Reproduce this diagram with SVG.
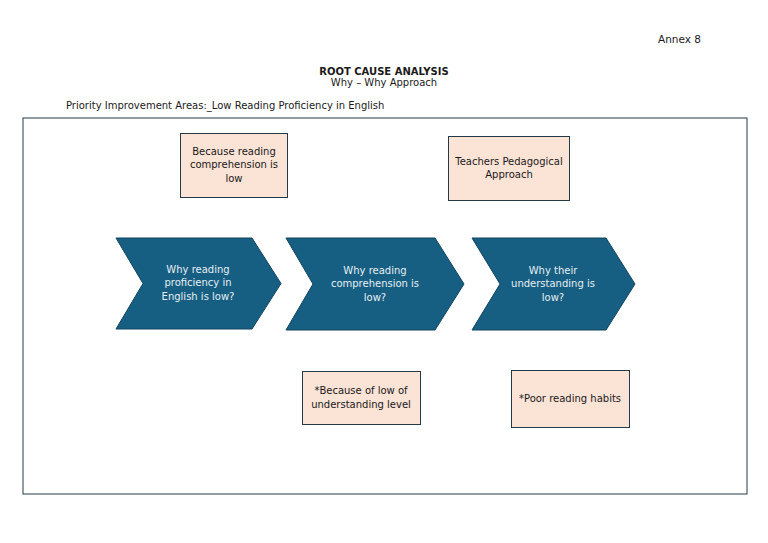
<svg xmlns="http://www.w3.org/2000/svg" width="768" height="543" viewBox="0 0 768 543">
<style>
text{font-family:"DejaVu Sans","Noto Sans",sans-serif;fill:#1a1a1a}
.hdr{font-size:10.5px}
.ttl{font-size:10px;font-weight:bold}
.sub{font-size:10px}
.chev{fill:#175f82;stroke:#12445f;stroke-width:1}
.ct{font-size:10px;fill:#e6eef3;text-anchor:middle}
.box{fill:#fbe3d6;stroke:#243a48;stroke-width:1}
.bt{font-size:10px;fill:#1a1a1a;text-anchor:middle}
</style>
<rect width="768" height="543" fill="#ffffff"/>
<text class="hdr" x="658" y="43">Annex 8</text>
<text class="ttl" x="384" y="75" text-anchor="middle">ROOT CAUSE ANALYSIS</text>
<text class="sub" x="384" y="86" text-anchor="middle">Why – Why Approach</text>
<text class="sub" x="66" y="109">Priority Improvement Areas:_Low Reading Proficiency in English</text>
<rect x="23" y="118" width="724" height="376" fill="none" stroke="#243a48" stroke-width="1"/>
<g id="connectors"></g>
<g id="why1">
<polygon class="chev" points="116,238 252,238 281,283.5 252,329 116,329 143,283.5"/>
<text class="ct" x="198" y="273">Why reading</text>
<text class="ct" x="198" y="286">proficiency in</text>
<text class="ct" x="198" y="300">English is low?</text>
</g>
<g id="why2">
<polygon class="chev" points="286,238 435,238 464,284 435,330 286,330 313,284"/>
<text class="ct" x="375" y="274">Why reading</text>
<text class="ct" x="375" y="287">comprehension is</text>
<text class="ct" x="375" y="301">low?</text>
</g>
<g id="why3">
<polygon class="chev" points="472,238 606,238 635,284 606,330 472,330 500,284"/>
<text class="ct" x="553" y="274">Why their</text>
<text class="ct" x="553" y="287">understanding is</text>
<text class="ct" x="553" y="301">low?</text>
</g>
<g id="because1">
<rect class="box" x="180.5" y="133.5" width="107" height="64"/>
<text class="bt" x="234" y="155">Because reading</text>
<text class="bt" x="234" y="168">comprehension is</text>
<text class="bt" x="234" y="182">low</text>
</g>
<g id="because2">
<rect class="box" x="448.5" y="136.5" width="121" height="64"/>
<text class="bt" x="509" y="165">Teachers Pedagogical</text>
<text class="bt" x="509" y="178">Approach</text>
</g>
<g id="because3">
<rect class="box" x="302.5" y="371.5" width="118" height="53"/>
<text class="bt" x="361" y="394">*Because of low of</text>
<text class="bt" x="361" y="408">understanding level</text>
</g>
<g id="because4">
<rect class="box" x="511.5" y="370.5" width="118" height="57"/>
<text class="bt" x="570" y="402">*Poor reading habits</text>
</g>
</svg>
